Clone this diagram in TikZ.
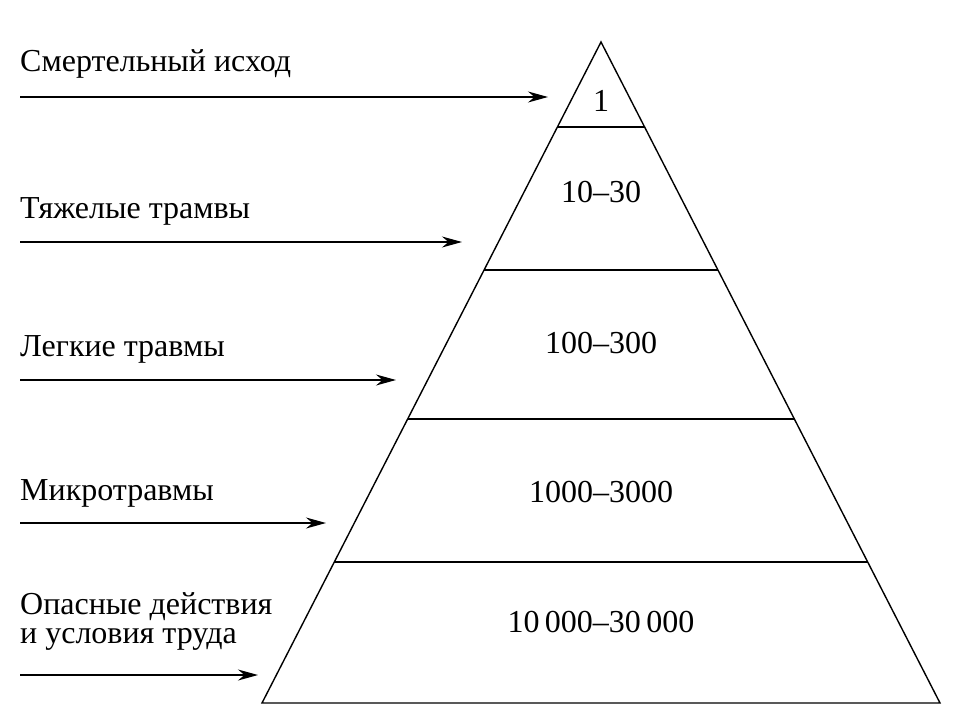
\documentclass[tikz,border=0pt]{standalone}
\usepackage{fontspec}
\setmainfont{Liberation Serif}
\usetikzlibrary{arrows.meta}
\begin{document}
\begin{tikzpicture}[x=1pt,y=-1pt,
  lbl/.style={anchor=west,font=\fontsize{32}{36}\selectfont,inner sep=0pt,align=left},
  num/.style={font=\fontsize{32}{36}\selectfont,inner sep=0pt},
  arr/.style={line width=1.3pt,-{Stealth[length=20pt,width=11pt]}},
  edge/.style={line width=1.4pt}]
\useasboundingbox (0,0) rectangle (960,720);
\coordinate (A) at (601,42);
\coordinate (L) at (262,703);
\coordinate (R) at (940,703);
\draw[edge] (L) -- (A) -- (R) -- cycle;
\foreach \y/\n in {127/a,270/b,419/c,562/d}{
  \pgfmathsetmacro{\dx}{(\y-42)/661*339}
  \coordinate (l\n) at ({601-\dx},\y);
  \coordinate (r\n) at ({601+\dx},\y);
  \draw[edge] (l\n) -- (r\n);
}
\node[num] (n1) at (601,101) {1};
\node[num] (n2) at (601,192) {10–30};
\node[num] (n3) at (601,343) {100–300};
\node[num] (n4) at (601,492) {1000–3000};
\node[num] (n5) at (601,622) {10\,000–30\,000};
\node[lbl] (t1) at (20,64) {Смертельный исход};
\node[lbl] (t2) at (20,211) {Тяжелые трамвы};
\node[lbl] (t3) at (20,349) {Легкие травмы};
\node[lbl] (t4) at (20,493) {Микротравмы};
\node[lbl] (t5) at (20,607) {Опасные действия};
\node[lbl] (t6) at (20,639) {и условия труда};
\coordinate (s1) at (20,97); \coordinate (e1) at (548,97);
\coordinate (s2) at (20,242); \coordinate (e2) at (462,242);
\coordinate (s3) at (20,380); \coordinate (e3) at (396,380);
\coordinate (s4) at (20,523); \coordinate (e4) at (326,523);
\coordinate (s5) at (20,675); \coordinate (e5) at (258,675);
\foreach \i in {1,...,5}{\draw[arr] (s\i) -- (e\i);}
\end{tikzpicture}
\end{document}
